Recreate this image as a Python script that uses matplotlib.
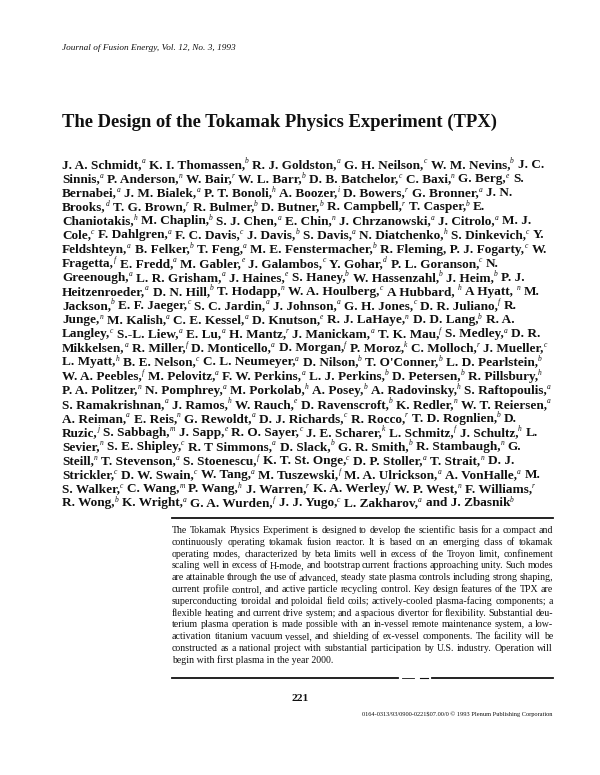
import re
import matplotlib
matplotlib.use("Agg")
import matplotlib.pyplot as plt
from matplotlib.lines import Line2D

W, H = 600, 775
SERIF = ["Liberation Serif", "DejaVu Serif"]
INK = "#111111"

journal_line = "Journal of Fusion Energy, Vol. 12, No. 3, 1993"
title = "The Design of the Tokamak Physics Experiment (TPX)"

# ^x marks a superscript affiliation letter
author_lines = [
    "J. A. Schmidt,^a K. I. Thomassen,^b R. J. Goldston,^a G. H. Neilson,^c W. M. Nevins,^b J. C.",
    "Sinnis,^a P. Anderson,^n W. Bair,^r W. L. Barr,^b D. B. Batchelor,^c C. Baxi,^n G. Berg,^e S.",
    "Bernabei,^a J. M. Bialek,^a P. T. Bonoli,^h A. Boozer,^i D. Bowers,^r G. Bronner,^a J. N.",
    "Brooks,^d T. G. Brown,^r R. Bulmer,^b D. Butner,^b R. Campbell,^r T. Casper,^b E.",
    "Chaniotakis,^h M. Chaplin,^b S. J. Chen,^a E. Chin,^n J. Chrzanowski,^a J. Citrolo,^a M. J.",
    "Cole,^c F. Dahlgren,^a F. C. Davis,^c J. Davis,^b S. Davis,^a N. Diatchenko,^h S. Dinkevich,^c Y.",
    "Feldshteyn,^a B. Felker,^b T. Feng,^a M. E. Fenstermacher,^b R. Fleming, P. J. Fogarty,^c W.",
    "Fragetta,^f E. Fredd,^a M. Gabler,^e J. Galambos,^c Y. Gohar,^d P. L. Goranson,^c N.",
    "Greenough,^a L. R. Grisham,^a J. Haines,^e S. Haney,^b W. Hassenzahl,^b J. Heim,^b P. J.",
    "Heitzenroeder,^a D. N. Hill,^b T. Hodapp,^n W. A. Houlberg,^c A Hubbard, ^h A Hyatt, ^n M.",
    "Jackson,^b E. F. Jaeger,^c S. C. Jardin,^a J. Johnson,^a G. H. Jones,^c D. R. Juliano,^f R.",
    "Junge,^n M. Kalish,^a C. E. Kessel,^a D. Knutson,^e R. J. LaHaye,^n D. D. Lang,^b R. A.",
    "Langley,^c S.-L. Liew,^a E. Lu,^a H. Mantz,^r J. Manickam,^a T. K. Mau,^f S. Medley,^a D. R.",
    "Mikkelsen,^a R. Miller,^f D. Monticello,^a D. Morgan,^f P. Moroz,^k C. Molloch,^r J. Mueller,^c",
    "L. Myatt,^h B. E. Nelson,^c C. L. Neumeyer,^a D. Nilson,^b T. O'Conner,^b L. D. Pearlstein,^b",
    "W. A. Peebles,^f M. Pelovitz,^a F. W. Perkins,^a L. J. Perkins,^b D. Petersen,^b R. Pillsbury,^h",
    "P. A. Politzer,^n N. Pomphrey,^a M. Porkolab,^h A. Posey,^b A. Radovinsky,^h S. Raftopoulis,^a",
    "S. Ramakrishnan,^a J. Ramos,^h W. Rauch,^e D. Ravenscroft,^b K. Redler,^n W. T. Reiersen,^a",
    "A. Reiman,^a E. Reis,^n G. Rewoldt,^a D. J. Richards,^c R. Rocco,^r T. D. Rognlien,^b D.",
    "Ruzic,^j S. Sabbagh,^m J. Sapp,^e R. O. Sayer,^c J. E. Scharer,^k L. Schmitz,^f J. Schultz,^h L.",
    "Sevier,^n S. E. Shipley,^c R. T Simmons,^a D. Slack,^b G. R. Smith,^b R. Stambaugh,^n G.",
    "Steill,^n T. Stevenson,^a S. Stoenescu,^f K. T. St. Onge,^c D. P. Stoller,^a T. Strait,^n D. J.",
    "Strickler,^c D. W. Swain,^c W. Tang,^a M. Tuszewski,^f M. A. Ulrickson,^a A. VonHalle,^a M.",
    "S. Walker,^c C. Wang,^m P. Wang,^h J. Warren,^r K. A. Werley,^f W. P. West,^n F. Williams,^r",
    "R. Wong,^b K. Wright,^a G. A. Wurden,^f J. J. Yugo,^c L. Zakharov,^a and J. Zbasnik^b",
]

abstract_lines = [
    "The Tokamak Physics Experiment is designed to develop the scientific basis for a compact and",
    "continuously operating tokamak fusion reactor. It is based on an emerging class of tokamak",
    "operating modes, characterized by beta limits well in excess of the Troyon limit, confinement",
    "scaling well in excess of H-mode, and bootstrap current fractions approaching unity. Such modes",
    "are attainable through the use of advanced, steady state plasma controls including strong shaping,",
    "current profile control, and active particle recycling control. Key design features of the TPX are",
    "superconducting toroidal and poloidal field coils; actively-cooled plasma-facing components; a",
    "flexible heating and current drive system; and a spacious divertor for flexibility. Substantial deu-",
    "terium plasma operation is made possible with an in-vessel remote maintenance system, a low-",
    "activation titanium vacuum vessel, and shielding of ex-vessel components. The facility will be",
    "constructed as a national project with substantial participation by U.S. industry. Operation will",
    "begin with first plasma in the year 2000.",
]

page_number = "221"
copyright_line = "0164-0313/93/0900-0221$07.00/0 \u00a9 1993 Plenum Publishing Corporation"

fig = plt.figure(figsize=(6, 7.75), dpi=100)
fig.patch.set_facecolor("white")
renderer = fig.canvas.get_renderer()


def put(x, y, s, size, weight="normal", style="normal", ha="left"):
    # x, y in page pixels from the top-left corner, y is the baseline
    return fig.text(x / W, 1 - y / H, s, fontsize=size, fontweight=weight,
                    fontstyle=style, family=SERIF, ha=ha, va="baseline",
                    color=INK, parse_math=False)


def width(t):
    return t.get_window_extent(renderer).width


def space_width(size, weight="normal"):
    a = put(0, -50, "n n", size, weight)
    b = put(0, -50, "nn", size, weight)
    w = width(a) - width(b)
    a.remove()
    b.remove()
    return w


def hline(x0, x1, y, lw=1.0):
    fig.add_artist(Line2D([x0 / W, x1 / W], [1 - y / H, 1 - y / H],
                          transform=fig.transFigure, color=INK, lw=lw))


# header and title
put(62, 50, journal_line, 6.7, style="italic")
put(62, 127, title, 13.4, weight="bold")

# authors, bold, ragged right, with superscripts
a_size = 9.55
a_sp = space_width(a_size, "bold")
y = 168
for line in author_lines:
    parts = re.split(r"\^(\w)", line)
    x = 62
    for i, piece in enumerate(parts):
        if i % 2 == 1:
            t = put(x, y - 4.6, piece, a_size * 0.57, style="italic")
            x += width(t) + 0.3
            continue
        lead = len(piece) - len(piece.lstrip(" "))
        trail = len(piece) - len(piece.rstrip(" "))
        x += lead * a_sp
        core = piece.strip(" ")
        if core:
            t = put(x, y, core, a_size, weight="bold")
            x += width(t)
        x += trail * a_sp
    y += 14.1

# abstract block, justified
left, right = 172, 553
hline(left, right, 518, lw=1.3)
ab_size = 7.1
y = 533
for k, line in enumerate(abstract_lines):
    words = line.split()
    if k == len(abstract_lines) - 1:
        put(left, y, line, ab_size)
        break
    arts = [put(0, y, w_, ab_size) for w_ in words]
    ws = [width(a) for a in arts]
    gap = (right - left - sum(ws)) / (len(words) - 1)
    x = left
    for a, w_ in zip(arts, ws):
        a.set_x(x / W)
        x += w_ + gap
    y += 11.8

hline(left, 398, 678, lw=1.3)
hline(402, 414, 678, lw=0.6)
hline(420, 428, 678, lw=0.8)
hline(432, right, 678, lw=1.3)

put(300, 701, page_number, 8.2, weight="bold", ha="center")
put(553, 716, copyright_line, 4.6, ha="right")

fig.savefig("out.png", dpi=100, facecolor="white")
